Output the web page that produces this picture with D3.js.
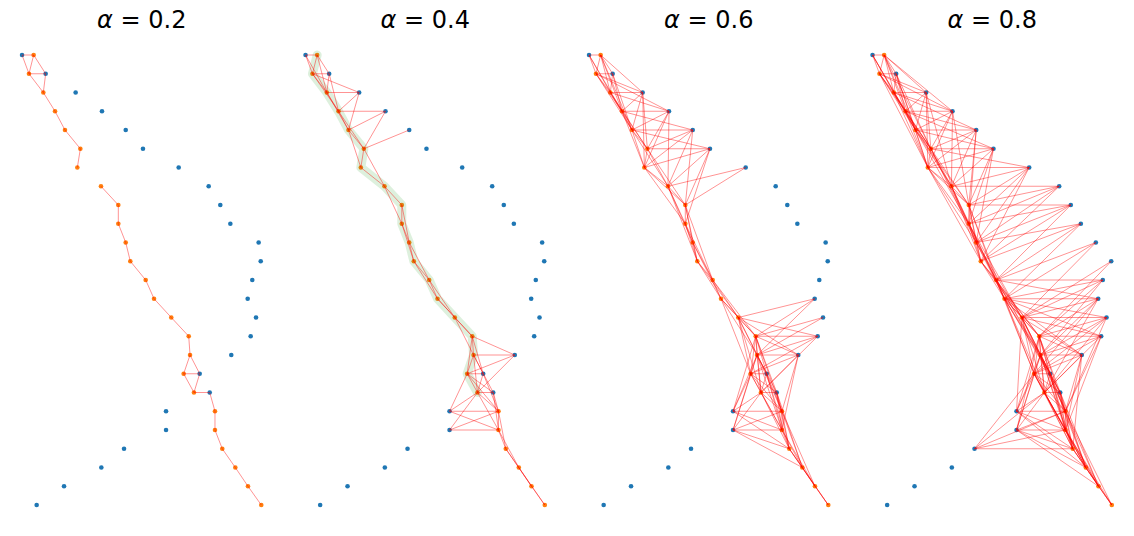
<!DOCTYPE html>
<html>
<head>
<meta charset="utf-8">
<script src="https://cdn.jsdelivr.net/npm/d3@7"></script>
<style>
	body { margin: 0; background: #fff; }
	text { font-family: "DejaVu Sans", sans-serif; }
</style>
</head>
<body>
<div id="chart"></div>
<script>
var alphas = [0.2, 0.4, 0.6, 0.8];
var rowY = [4.8, 4.6, 4.4, 4.2, 4.0, 3.8, 3.6, 3.4, 3.2, 3.0, 2.8, 2.6, 2.4, 2.2, 2.0, 1.8, 1.6, 1.4, 1.2, 1.0, 0.8, 0.6, 0.4, 0.2, 0.0];
var orangeX = [0.359, 0.309, 0.462, 0.587, 0.693, 0.857, 0.825, 1.077, 1.262, 1.262, 1.341, 1.390, 1.554, 1.643, 1.827, 2.013, 2.027, 1.959, 2.069, 2.293, 2.293, 2.371, 2.510, 2.645, 2.787];
var blueX = [0.235, 0.487, 0.807, 1.088, 1.341, 1.525, 1.906, 2.226, 2.350, 2.457, 2.759, 2.781, 2.691, 2.642, 2.731, 2.674, 2.467, 2.130, 2.237, 1.771, 1.771, 1.323, 1.081, 0.683, 0.391];
// last panel: one blue point sits a bit further left
var blueXLast = [0.235, 0.487, 0.807, 1.088, 1.341, 1.525, 1.906, 2.226, 2.350, 2.457, 2.617, 2.781, 2.691, 2.642, 2.731, 2.674, 2.467, 2.130, 2.237, 1.771, 1.771, 1.323, 1.081, 0.683, 0.391];
// highlighted orange path in the second panel
var highlightPanel = 1;
var highlightRows = [0, 1, 2, 3, 4, 5, 6, 7, 8, 9, 10, 11, 12, 13, 14, 15, 16, 17, 18];
// neighbourhood radius = alpha * radiusPerAlpha (data units)
var radiusPerAlpha = 1.46;

var w = 1134,
	h = 536;
var panelW = w / 4;

var root = d3.select("#chart").append("svg").attr("width", w).attr("height", h);

var y = d3.scaleLinear().domain([0, 4.8]).range([505, 55]);

alphas.forEach(function(alpha, p) {
	var x = d3.scaleLinear().domain([0, panelW / 93.75]).range([p * panelW, (p + 1) * panelW]);
	var g = root.append("g");
	var bx = (p === 3) ? blueXLast : blueX;

	var pts = [];
	rowY.forEach(function(v, i) {
		pts.push({ x: bx[i], y: v, c: "b", i: i });
	});
	rowY.forEach(function(v, i) {
		pts.push({ x: orangeX[i], y: v, c: "o", i: i });
	});

	// edges: pairs within radius, at least one orange end
	var r = alpha * radiusPerAlpha;
	var edges = [];
	for (var a = 0; a < pts.length; a++) {
		for (var b = a + 1; b < pts.length; b++) {
			if (pts[a].c === "b" && pts[b].c === "b") continue;
			var dx = pts[a].x - pts[b].x,
				dy = pts[a].y - pts[b].y;
			if (Math.sqrt(dx * dx + dy * dy) <= r) edges.push([pts[a], pts[b]]);
		}
	}

	g.selectAll("circle.pt").data(pts).enter().append("circle").classed("pt", true)
		.attr("cx", function(d) { return x(d.x); })
		.attr("cy", function(d) { return y(d.y); })
		.attr("r", 2.3)
		.attr("fill", function(d) { return d.c === "b" ? "#1f77b4" : "#ff7f0e"; });

	if (p === highlightPanel) {
		var line = d3.line().x(function(i) { return x(orangeX[i]); }).y(function(i) { return y(rowY[i]); });
		g.append("path").attr("d", line(highlightRows))
			.attr("fill", "none").attr("stroke", "#2ca02c").attr("stroke-opacity", 0.16)
			.attr("stroke-width", 9).attr("stroke-linejoin", "round").attr("stroke-linecap", "round");
	}

	g.selectAll("line").data(edges).enter().append("line")
		.attr("x1", function(d) { return x(d[0].x); })
		.attr("y1", function(d) { return y(d[0].y); })
		.attr("x2", function(d) { return x(d[1].x); })
		.attr("y2", function(d) { return y(d[1].y); })
		.attr("stroke", "#ff0000").attr("stroke-opacity", 0.5).attr("stroke-width", 0.85);

	var t = root.append("text").attr("x", p * panelW + panelW / 2).attr("y", 28)
		.attr("text-anchor", "middle").attr("font-size", 24).attr("fill", "#000");
	t.append("tspan").attr("font-style", "italic").text("α");
	t.append("tspan").text(" = 0." + Math.round(alpha * 10));
});
</script>
</body>
</html>
